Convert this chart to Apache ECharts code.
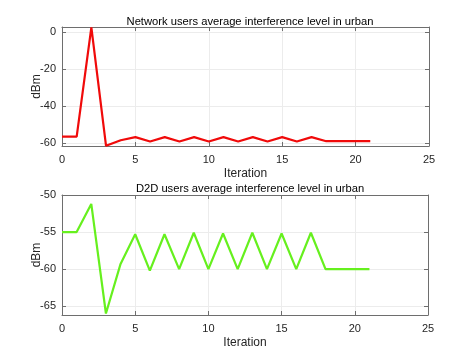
<!DOCTYPE html>
<html><head><meta charset="utf-8">
<script src="https://cdn.jsdelivr.net/npm/echarts@6/dist/echarts.min.js"></script>
<style>html,body{margin:0;padding:0;background:#fff}#c{width:474px;height:355px}</style>
</head><body><div id="c"></div>
<script>
const iterations = [0,1,2,3,4,5,6,7,8,9,10,11,12,13,14,15,16,17,18,19,20,21];
const networkInterference = [-56.6,-56.6,2.5,-61.6,-58.6,-56.9,-59.3,-56.9,-59.3,-56.9,-59.3,-56.9,-59.3,-56.9,-59.3,-56.9,-59.3,-56.9,-59.1,-59.1,-59.1,-59.1];
const d2dInterference = [-55,-55,-51.2,-66,-59.3,-55.3,-60.2,-55.3,-60,-55.1,-60,-55.2,-60,-55.1,-60,-55.2,-60,-55.1,-60,-60,-60,-60];
const xTicks = [0,5,10,15,20,25];
const yTicksTop = [-60,-40,-20,0];
const yTicksBottom = [-65,-60,-55,-50];
const title1 = 'Network users average interference level in urban';
const title2 = 'D2D users average interference level in urban';

const font = 'Liberation Sans, Arial, Helvetica, sans-serif';
const axisCol = '#6e6e6e';
const labCol = '#262626';
const gridCol = '#ececec';

function xAx(gi, show){
  return {type:'value', gridIndex:gi, min:0, max:25, position: show?'bottom':'top',
    axisLine:{show:true,onZero:false,lineStyle:{color:axisCol,width:1}},
    axisTick:{show:true,inside:true,length:4,customValues:xTicks,lineStyle:{color:axisCol}},
    axisLabel:{show:show,customValues:xTicks,color:labCol,fontSize:11,fontFamily:font,margin:8},
    splitLine:{show:show,lineStyle:{color:gridCol,width:1}},
    name: show?'Iteration':'', nameLocation:'middle', nameGap:22, nameMoveOverlap:false,
    nameTextStyle:{color:labCol,fontSize:12,fontFamily:font}};
}
function yAx(gi, show, mn, mx, ticks){
  return {type:'value', gridIndex:gi, min:mn, max:mx, position: show?'left':'right',
    axisLine:{show:true,onZero:false,lineStyle:{color:axisCol,width:1}},
    axisTick:{show:true,inside:true,length:4,customValues:ticks,lineStyle:{color:axisCol}},
    axisLabel:{show:show,customValues:ticks,color:labCol,fontSize:11,fontFamily:font,margin:6},
    splitLine:{show:show,lineStyle:{color:gridCol,width:1}},
    name: show?'dBm':'', nameLocation:'middle', nameGap:19, nameRotate:90, nameMoveOverlap:false,
    nameTextStyle:{color:labCol,fontSize:12,fontFamily:font}};
}
const chart = echarts.init(document.getElementById('c'), null, {renderer:'canvas'});
chart.setOption({
  animation:false,
  backgroundColor:'#fff',
  title:[
    {text:title1,left:245,top:11,textAlign:'center',textStyle:{fontSize:11.2,fontWeight:'normal',color:'#000',fontFamily:font}},
    {text:title2,left:245,top:178,textAlign:'center',textStyle:{fontSize:11.2,fontWeight:'normal',color:'#000',fontFamily:font}}
  ],
  grid:[
    {left:62,top:27,width:367,height:119},
    {left:62,top:195,width:366,height:120}
  ],
  xAxis:[xAx(0,true),xAx(0,false),xAx(1,true),xAx(1,false)],
  yAxis:[yAx(0,true,-61.7,2.7,yTicksTop),yAx(0,false,-61.7,2.7,yTicksTop),
         yAx(1,true,-66.2,-50,yTicksBottom),yAx(1,false,-66.2,-50,yTicksBottom)],
  series:[
    {type:'line',xAxisIndex:0,yAxisIndex:0,data:iterations.map((x,i)=>[x,networkInterference[i]]),
     showSymbol:false,lineStyle:{color:'#f00a0a',width:2.2},itemStyle:{color:'#f00a0a'},clip:false},
    {type:'line',xAxisIndex:2,yAxisIndex:2,data:iterations.map((x,i)=>[x,d2dInterference[i]]),
     showSymbol:false,lineStyle:{color:'#66f01e',width:2.2},itemStyle:{color:'#66f01e'},clip:false}
  ]
});
</script></body></html>
